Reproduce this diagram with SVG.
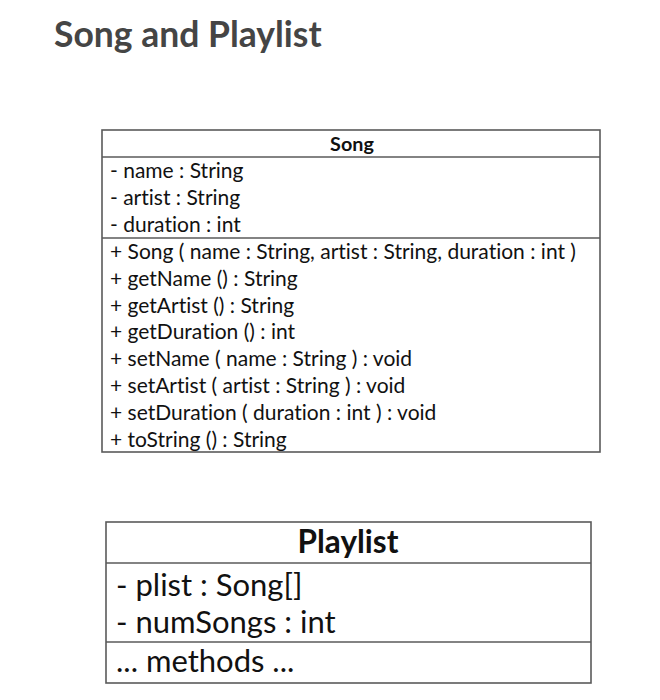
<svg xmlns="http://www.w3.org/2000/svg" width="660" height="700" viewBox="0 0 660 700">
<style>
text{font-variant-ligatures:none}
.title{font-family:Lato,"Open Sans",sans-serif;font-weight:700;font-size:35.5px;fill:#454545}
.box{fill:#fff;stroke:#5a5a5a;stroke-width:1.6}
.sep{stroke:#5a5a5a;stroke-width:1.6}
.t{font-family:Lato,"Noto Sans",sans-serif;font-size:21px;fill:#111}
.h{font-family:Lato,"Noto Sans",sans-serif;font-size:19.8px;font-weight:700;fill:#111;text-anchor:middle}
.pt{font-family:Lato,"Noto Sans",sans-serif;font-size:31px;fill:#111}
.ph{font-family:Lato,"Noto Sans",sans-serif;font-size:31.5px;font-weight:700;fill:#111;text-anchor:middle}
</style>
<rect width="660" height="700" fill="#fff"/>
<text class="title" x="54" y="47">Song and Playlist</text>
<g id="song">
<rect class="box" x="102" y="130" width="498" height="322"/>
<line class="sep" x1="102" y1="157" x2="600" y2="157"/>
<line class="sep" x1="102" y1="238" x2="600" y2="238"/>
<text class="h" x="352" y="151">Song</text>
<text class="t" x="110" y="178">- name : String</text>
<text class="t" x="110" y="205">- artist : String</text>
<text class="t" x="110" y="232">- duration : int</text>
<text class="t" x="110" y="259">+ Song ( name : String, artist : String, duration : int )</text>
<text class="t" x="110" y="286">+ getName () : String</text>
<text class="t" x="110" y="313">+ getArtist () : String</text>
<text class="t" x="110" y="339">+ getDuration () : int</text>
<text class="t" x="110" y="366">+ setName ( name : String ) : void</text>
<text class="t" x="110" y="393">+ setArtist ( artist : String ) : void</text>
<text class="t" x="110" y="420">+ setDuration ( duration : int ) : void</text>
<text class="t" x="110" y="447">+ toString () : String</text>
</g>
<g id="playlist">
<rect class="box" x="106" y="522" width="485" height="161"/>
<line class="sep" x1="106" y1="563" x2="591" y2="563"/>
<line class="sep" x1="106" y1="642" x2="591" y2="642"/>
<text class="ph" x="348" y="553">Playlist</text>
<text class="pt" x="116" y="596">- plist : Song[]</text>
<text class="pt" x="116" y="633">- numSongs : int</text>
<text class="pt" x="116" y="672">... methods ...</text>
</g>
<g id="connectors"/>
</svg>
